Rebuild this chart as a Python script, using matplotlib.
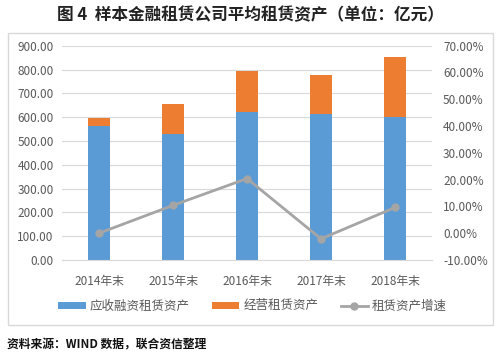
import matplotlib
matplotlib.use("Agg")
import matplotlib.pyplot as plt
from matplotlib.patches import Rectangle
from matplotlib.ticker import FuncFormatter
import numpy as np

plt.rcParams['font.family'] = ['Noto Sans CJK SC', 'DejaVu Sans']

categories = ["2014年末", "2015年末", "2016年末", "2017年末", "2018年末"]
finance_lease = [563, 528, 623, 612, 599]
operating_lease = [33, 129, 170, 166, 252]
growth = [0.0, 10.4, 20.4, -2.1, 9.6]

title = "图 4  样本金融租赁公司平均租赁资产（单位：亿元）"
source = "资料来源：WIND 数据，联合资信整理"
labels = ["应收融资租赁资产", "经营租赁资产", "租赁资产增速"]

blue = "#5B9BD5"
orange = "#ED7D31"
gray = "#A5A5A5"
txt = "#595959"

fig = plt.figure(figsize=(5, 3.55), dpi=100)
fig.patches.append(Rectangle((8/500, 1-325/355), 485/500, 292/355, transform=fig.transFigure,
                             fill=False, edgecolor="#D9D9D9", linewidth=1))

ax = fig.add_axes([0.124, 0.2676, 0.74, 0.6037])
x = np.arange(len(categories))
w = 0.31
b1 = ax.bar(x, finance_lease, w, color=blue, zorder=2, label=labels[0])
b2 = ax.bar(x, operating_lease, w, bottom=finance_lease, color=orange, zorder=2, label=labels[1])
ax.set_ylim(0, 900)
ax.set_yticks(np.arange(0, 901, 100))
ax.yaxis.set_major_formatter(FuncFormatter(lambda v, p: f"{v:.2f}"))
ax.set_xlim(-0.5, len(categories) - 0.5)
ax.set_xticks(x)
ax.set_xticklabels(categories)
ax.grid(axis='y', color="#D9D9D9", linewidth=0.8, zorder=0)
ax.set_axisbelow(True)
for s in ax.spines.values():
    s.set_visible(False)
ax.spines['bottom'].set_visible(True)
ax.spines['bottom'].set_color("#D9D9D9")
ax.tick_params(axis='y', length=0, labelsize=8.5, colors=txt, pad=6)
ax.tick_params(axis='x', length=0, labelsize=8.5, colors=txt, pad=11)

ax2 = ax.twinx()
ln, = ax2.plot(x, growth, color=gray, linewidth=2, marker='o', markersize=5, zorder=3, label=labels[2])
ax2.set_ylim(-10, 70)
ax2.set_yticks(np.arange(-10, 71, 10))
ax2.yaxis.set_major_formatter(FuncFormatter(lambda v, p: f"{v:.2f}%"))
for s in ax2.spines.values():
    s.set_visible(False)
ax2.tick_params(axis='y', length=0, labelsize=8.5, colors=txt, pad=8)

fig.legend([b1, b2, ln], labels, loc='center', bbox_to_anchor=(0.505, 1-306/355), ncol=3,
           frameon=False, fontsize=9, labelcolor=txt, handlelength=2.2, handleheight=0.5,
           columnspacing=1.8, handletextpad=0.3)

fig.text(0.5, 1-15/355, title, ha='center', va='center', fontsize=12, fontweight='bold', color="#222222")
fig.text(7/500, 1-345/355, source, ha='left', va='center', fontsize=8.5, fontweight='bold', color="#111111")

fig.savefig("out.png", dpi=100)
